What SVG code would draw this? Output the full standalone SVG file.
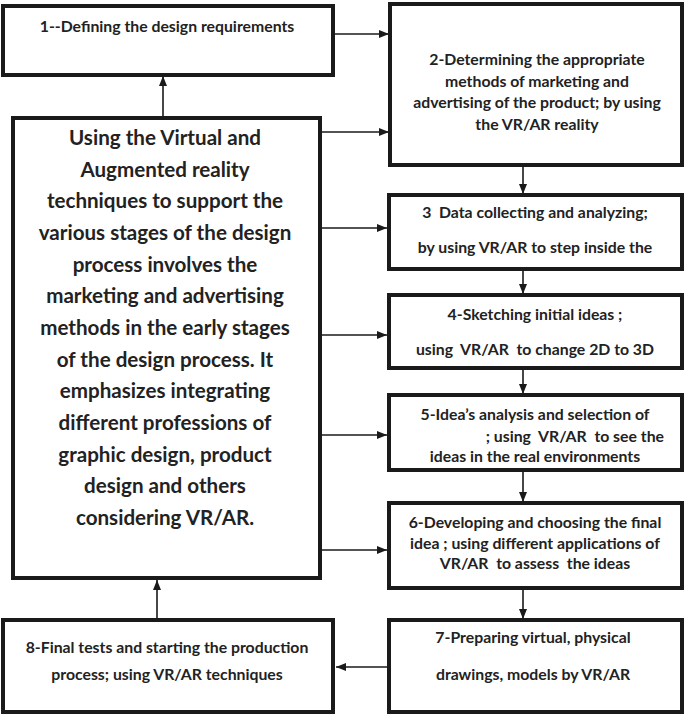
<svg xmlns="http://www.w3.org/2000/svg" width="685" height="715" viewBox="0 0 685 715">
<defs>
<marker id="ah" markerWidth="10" markerHeight="8" refX="10" refY="4" orient="auto" markerUnits="userSpaceOnUse">
<path d="M0,0 L10,4 L0,8 Z" fill="#1a1a1a"/>
</marker>
<clipPath id="c5"><rect x="390" y="395" width="292" height="69"/></clipPath>
</defs>
<style>
.box{fill:#fff;stroke:#1a1a1a;stroke-width:4}
.t{font-family:Lato,"Liberation Sans",sans-serif;font-weight:bold;fill:#222;text-anchor:middle;font-size:15.8px}
.m{font-size:20.6px}
.c{stroke:#1a1a1a;stroke-width:1.6;fill:none;marker-end:url(#ah)}
</style>
<rect width="685" height="715" fill="#fff"/>
<g id="connectors">
<path class="c" d="M335,34 H389"/>
<path class="c" d="M163,118 V76"/>
<path class="c" d="M322,132 H389"/>
<path class="c" d="M322,228 H387"/>
<path class="c" d="M322,335 H387"/>
<path class="c" d="M322,435 H387"/>
<path class="c" d="M322,550 H387"/>
<path class="c" d="M523,165 V194"/>
<path class="c" d="M523,269 V294"/>
<path class="c" d="M523,368 V394"/>
<path class="c" d="M523,470 V502"/>
<path class="c" d="M523,588 V619"/>
<path class="c" d="M388,667 H336"/>
<path class="c" d="M157,619 V580"/>
</g>
<g id="n1">
<rect class="box" x="3" y="6" width="330" height="69"/>
<text class="t" x="167" y="32">1--Defining the design requirements</text>
</g>
<g id="n2">
<rect class="box" x="390" y="4" width="292" height="161"/>
<text class="t" x="537" y="65">2-Determining the appropriate</text>
<text class="t" x="537" y="87">methods of marketing and</text>
<text class="t" x="537" y="108">advertising of the product; by using</text>
<text class="t" x="537" y="130">the VR/AR reality</text>
</g>
<g id="main">
<rect class="box" x="13" y="118" width="307" height="460"/>
<text class="t m" x="165" y="145">Using the Virtual and</text>
<text class="t m" x="165" y="176.7">Augmented reality</text>
<text class="t m" x="165" y="208.3">techniques to support the</text>
<text class="t m" x="165" y="240">various stages of the design</text>
<text class="t m" x="165" y="271.7">process involves the</text>
<text class="t m" x="165" y="303.3">marketing and advertising</text>
<text class="t m" x="165" y="335">methods in the early stages</text>
<text class="t m" x="165" y="366.7">of the design process. It</text>
<text class="t m" x="165" y="398.3">emphasizes integrating</text>
<text class="t m" x="165" y="430">different professions of</text>
<text class="t m" x="165" y="461.7">graphic design, product</text>
<text class="t m" x="165" y="493.3">design and others</text>
<text class="t m" x="165" y="525">considering VR/AR.</text>
</g>
<g id="n3">
<rect class="box" x="389" y="195" width="293" height="74"/>
<text class="t" x="535" y="218" xml:space="preserve">3  Data collecting and analyzing;</text>
<text class="t" x="535" y="253">by using VR/AR to step inside the</text>
</g>
<g id="n4">
<rect class="box" x="389" y="295" width="293" height="73"/>
<text class="t" x="535" y="320">4-Sketching initial ideas ;</text>
<text class="t" x="535" y="355" xml:space="preserve">using  VR/AR  to change 2D to 3D</text>
</g>
<g id="n5">
<rect class="box" x="389" y="395" width="293" height="75"/>
<text class="t" x="535" y="420">5-Idea’s analysis and selection of</text>
<text class="t" x="664" y="442" style="text-anchor:end" xml:space="preserve">; using  VR/AR  to see the</text>
<text class="t" x="535" y="462" clip-path="url(#c5)">ideas in the real environments</text>
</g>
<g id="n6">
<rect class="box" x="389" y="503" width="293" height="85"/>
<text class="t" x="535" y="528">6-Developing and choosing the final</text>
<text class="t" x="535" y="549">idea ; using different applications of</text>
<text class="t" x="535" y="569" xml:space="preserve">VR/AR  to assess  the ideas</text>
</g>
<g id="n7">
<rect class="box" x="389" y="620" width="293" height="92"/>
<text class="t" x="533" y="643">7-Preparing virtual, physical</text>
<text class="t" x="533" y="680">drawings, models by VR/AR</text>
</g>
<g id="n8">
<rect class="box" x="3" y="620" width="330" height="92"/>
<text class="t" x="167" y="653">8-Final tests and starting the production</text>
<text class="t" x="167" y="680">process; using VR/AR techniques</text>
</g>
</svg>
